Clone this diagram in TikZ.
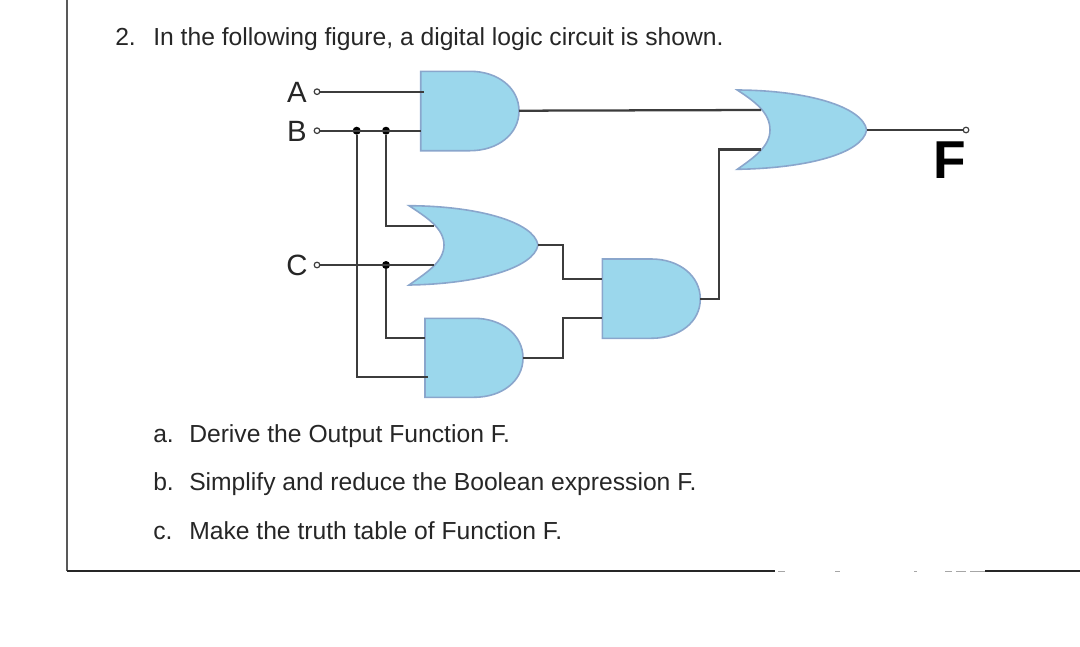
\documentclass[tikz,border=0pt]{standalone}
\usepackage{fontspec}
\setmainfont{Liberation Sans}
\definecolor{gatefill}{HTML}{9BD7EC}
\definecolor{gateedge}{HTML}{8AA6CC}
\definecolor{wirecol}{HTML}{3C3C3C}
\definecolor{txt}{HTML}{262626}
\tikzset{
  wire/.style={draw=wirecol,line width=1.7pt},
  gatebody/.style={fill=gatefill,draw=gateedge,line width=1.2pt,line join=miter},
  dotj/.style={circle,fill=black,inner sep=0pt,minimum size=6pt},
  term/.style={circle,draw=wirecol,fill=white,line width=.9pt,inner sep=0pt,minimum size=4.2pt},
  lab/.style={inner sep=0pt,text=txt,font=\fontsize{18.5}{18.5}\selectfont,anchor=base west},
  inp/.style={inner sep=0pt,text=txt,font=\fontsize{22}{22}\selectfont,anchor=center},
  frameleft/.style={draw=black!65,line width=1.3pt},
  framebottom/.style={draw=black!85,line width=1pt},
  framesmudge/.style={draw=black!35,line width=.7pt}
}
\begin{document}
\begin{tikzpicture}[x=0.75pt,y=-0.75pt]
\useasboundingbox (0,0) rectangle (1080,646);
% frame
\draw[frameleft] (67,0) -- (67,571);
\draw[framebottom] (66.5,571) -- (775,571);
\draw[framebottom] (985,571) -- (1080,571);
\draw[framesmudge] (778,571) -- (785,571);
\draw[framesmudge] (835,571) -- (840,571);
\draw[framesmudge] (914,571) -- (917,571);
\draw[framesmudge] (945,571) -- (952,571);
\draw[framesmudge] (956,571) -- (966,571);
\draw[framesmudge] (970,571) -- (985,571);
% text
\node[lab] (q) at (115,45) {\makebox[28.5pt][l]{2.}In the following figure, a digital logic circuit is shown.};
\node[lab] (a) at (153,442) {\makebox[27pt][l]{a.}Derive the Output Function F.};
\node[lab] (b) at (153,490.5) {\makebox[27pt][l]{b.}Simplify and reduce the Boolean expression F.};
\node[lab] (c) at (153,539.5) {\makebox[27pt][l]{c.}Make the truth table of Function F.};
% terminals
\node[term] (ta) at (317,91.7) {};
\node[term] (tb) at (317,130.7) {};
\node[term] (tc) at (317,265) {};
\node[term] (tf) at (966,130) {};
\node[inp] (la) at (297,92) {A};
\node[inp] (lb) at (297,131) {B};
\node[inp] (lc) at (297,265) {C};
\node[inp,text=black,font=\fontsize{40}{40}\selectfont\bfseries] (lf) at (949.5,160.5) {F};
% junctions
\node[dotj] (j1) at (356.7,130.7) {};
\node[dotj] (j2) at (386,130.7) {};
\node[dotj] (j3) at (386,265) {};
% gate pins
\coordinate (g1a) at (424,91.7);
\coordinate (g1b) at (421,130.7);
\coordinate (g1o) at (519,110.7);
\coordinate (g2a) at (434,225.7);
\coordinate (g2b) at (434,265);
\coordinate (g2o) at (538,245);
\coordinate (g3a) at (425,338.3);
\coordinate (g3b) at (427.5,376.7);
\coordinate (g3o) at (523,357.7);
\coordinate (g4a) at (602.3,278.7);
\coordinate (g4b) at (602.3,318.3);
\coordinate (g4o) at (700.3,298.7);
\coordinate (g5a) at (761,110);
\coordinate (g5b) at (761,149.5);
\coordinate (g5o) at (866.7,130);
% gates
\path[gatebody] (420.7,71.3) -- (470,71.3) .. controls (498,71.3) and (519,88) .. (519,111) .. controls (519,134) and (498,150.7) .. (470,150.7) -- (420.7,150.7) -- cycle;
\path[gatebody] (409,205.7) .. controls (478,206) and (534,222) .. (538,245) .. controls (534,268) and (478,284) .. (409,285) .. controls (426,273) and (444,262) .. (444,245) .. controls (444,228) and (426,217) .. (409,205.7) -- cycle;
\path[gatebody] (425,318.3) -- (474,318.3) .. controls (502,318.3) and (523,335) .. (523,358) .. controls (523,381) and (502,397.3) .. (474,397.3) -- (425,397.3) -- cycle;
\path[gatebody] (602.3,259) -- (651.3,259) .. controls (679.3,259) and (700.3,276) .. (700.3,299) .. controls (700.3,322) and (679.3,338.3) .. (651.3,338.3) -- (602.3,338.3) -- cycle;
\path[gatebody] (737.3,90) .. controls (806.3,90.3) and (862.3,106.3) .. (866.7,130) .. controls (862.3,153.7) and (806.3,168.3) .. (737.3,169.3) .. controls (754.3,157.3) and (770,146.3) .. (770,130) .. controls (770,112.3) and (754.3,101.3) .. (737.3,90) -- cycle;
% wires
\draw[wire] (ta) -- (g1a);
\draw[wire] (tb) -- (g1b);
\draw[wire] (tc) -- (g2b);
\draw[wire] (j1) |- (g3b);
\draw[wire] (j2) |- (g2a);
\draw[wire] (j3) |- (g3a);
\draw[wire] (g1o) -- (g5a);
\draw[wire] (g2o) -| (562.7,278.7) -- (g4a);
\draw[wire] (g3o) -| (562.7,318.3) -- (g4b);
\draw[wire] (g4o) -| (719,149.5) -- (g5b);
\draw[wire] (g5o) -- (tf);
\end{tikzpicture}
\end{document}
